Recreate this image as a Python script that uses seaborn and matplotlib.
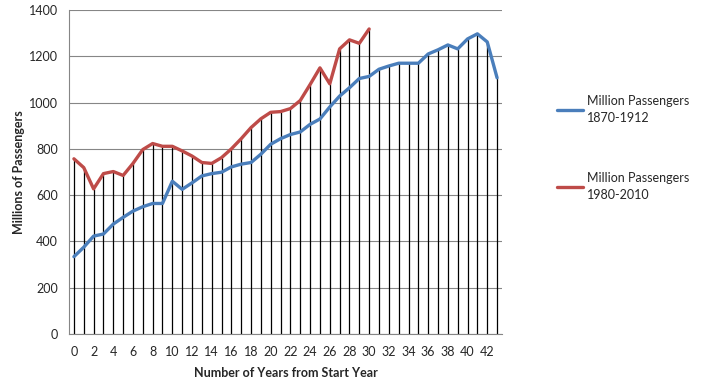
import numpy as np
import pandas as pd
import matplotlib
matplotlib.use("Agg")
import matplotlib.pyplot as plt
import seaborn as sns
from matplotlib.legend_handler import HandlerLine2D

# Data
years_old = list(range(44))
passengers_old = [334, 375, 423, 432, 475, 504, 531, 550, 564, 564,
                  660, 625, 653, 683, 693, 699, 722, 734, 741, 777,
                  820, 844, 862, 873, 906, 929, 981, 1028, 1064, 1104,
                  1113, 1144, 1158, 1170, 1170, 1170, 1210, 1228, 1249, 1232,
                  1275, 1297, 1262, 1107]
years_new = list(range(31))
passengers_new = [757, 719, 627, 693, 702, 685, 737, 797, 823, 811,
                  811, 791, 769, 741, 737, 762, 800, 844, 892, 930,
                  958, 961, 974, 1009, 1078, 1150, 1081, 1232, 1271, 1256,
                  1318]
label_old = "Million Passengers\n1870-1912"
label_new = "Million Passengers\n1980-2010"

sns.set_style("white")
plt.rcParams["font.family"] = ["Lato", "DejaVu Sans"]

df_old = pd.DataFrame({"year": years_old, "value": passengers_old})
df_new = pd.DataFrame({"year": years_new, "value": passengers_new})

fig = plt.figure(figsize=(7.11, 3.89), dpi=100)
ax = fig.add_axes([69 / 711, 1 - 334 / 389, 433 / 711, 324 / 389])

# drop lines from the highest point to the axis
tops = np.array(passengers_old, dtype=float)
tops[:len(passengers_new)] = np.maximum(tops[:len(passengers_new)], passengers_new)
ax.vlines(years_old, 0, tops, color="black", lw=0.9, zorder=2)

sns.lineplot(data=df_old, x="year", y="value", ax=ax, color="#4A7EBB",
             lw=2.4, label=label_old, zorder=3)
sns.lineplot(data=df_new, x="year", y="value", ax=ax, color="#BE4B48",
             lw=2.4, label=label_new, zorder=3)

ax.set_xlim(-0.5, 43.5)
ax.set_ylim(0, 1400)
ax.set_yticks(np.arange(0, 1401, 200))
ax.set_xticks(np.arange(0, 43, 2))
ax.set_xticks(np.arange(-0.5, 44, 1), minor=True)
ax.tick_params(axis="x", which="major", length=0, pad=9, labelsize=9)
ax.tick_params(axis="x", which="minor", length=3, color="#868686", direction="out")
ax.tick_params(axis="y", length=3, color="#868686", pad=5, labelsize=9, direction="out")
ax.yaxis.grid(True, color="#868686", lw=0.8)
ax.set_axisbelow(True)
for s in ["top", "right"]:
    ax.spines[s].set_visible(False)
for s in ["left", "bottom"]:
    ax.spines[s].set_color("#868686")
    ax.spines[s].set_linewidth(0.8)

ax.set_xlabel("Number of Years from Start Year", fontsize=9, fontweight="bold", labelpad=6)
ax.set_ylabel("Millions of Passengers", fontsize=9, fontweight="bold", labelpad=3)

handles, labels = ax.get_legend_handles_labels()
leg = ax.legend(handles, labels, loc="upper left", bbox_to_anchor=(557 / 711, 1 - 95 / 389),
                bbox_transform=fig.transFigure, frameon=False, fontsize=9,
                borderpad=0, borderaxespad=0, handlelength=2.1, handletextpad=0.3,
                labelspacing=3.85,
                handler_map={h: HandlerLine2D(ypad=1.6) for h in handles})
for t in leg.get_texts():
    t.set_linespacing(1.5)

fig.savefig("out.png", dpi=100)
